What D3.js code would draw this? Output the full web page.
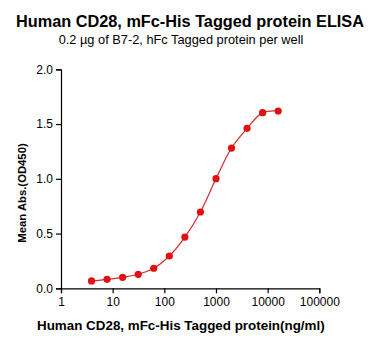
<!DOCTYPE html>
<html><head><meta charset="utf-8">
<script src="https://cdn.jsdelivr.net/npm/d3@7"></script>
<style>body{margin:0;background:#fff}svg{display:block}</style>
</head><body>
<script>
const concentrations = [3.9, 7.8, 15.6, 31.25, 62.5, 125, 250, 500, 1000, 2000, 4000, 8000, 16000];
const absorbance = [0.067, 0.082, 0.10, 0.128, 0.183, 0.295, 0.468, 0.697, 1.001, 1.281, 1.461, 1.604, 1.619];
const xTicks = [1, 10, 100, 1000, 10000, 100000];
const yTicks = [0, 0.5, 1.0, 1.5, 2.0];
const title = "Human CD28, mFc-His Tagged protein ELISA";
const subtitle = "0.2 \u00b5g of B7-2, hFc Tagged protein per well";
const xLabel = "Human CD28, mFc-His Tagged protein(ng/ml)";
const yLabel = "Mean Abs.(OD450)";

const W = 379, H = 345;
const svg = d3.select("body").append("svg").attr("width", W).attr("height", H)
  .style("font-family", "Arial, 'Liberation Sans', sans-serif");

const x = d3.scaleLog().domain([1, 100000]).range([61, 319.3]);
const y = d3.scaleLinear().domain([0, 2]).range([288.3, 69.3]);

const xAxis = svg.append("g").attr("transform", "translate(0,288.3)")
  .call(d3.axisBottom(x).tickValues(xTicks).tickFormat(d3.format("d")).tickSizeOuter(0).tickSize(5).tickPadding(4));
const yAxis = svg.append("g").attr("transform", "translate(61,0)")
  .call(d3.axisLeft(y).tickValues(yTicks).tickFormat(d3.format(".1f")).tickSizeOuter(0).tickSize(5).tickPadding(3));
[xAxis, yAxis].forEach(a => {
  a.selectAll("path,line").attr("stroke", "#000").attr("stroke-width", 1.2);
  a.selectAll("text").attr("font-size", 12).attr("fill", "#000").style("font-family", "Arial, 'Liberation Sans', sans-serif");
});

const pts = concentrations.map((c, i) => [c, absorbance[i]]);
svg.append("path").datum(pts)
  .attr("fill", "none").attr("stroke", "#d42a2a").attr("stroke-width", 1.2)
  .attr("d", d3.line().x(d => x(d[0])).y(d => y(d[1])).curve(d3.curveCatmullRom.alpha(0.5)));
svg.selectAll("circle.pt").data(pts).enter().append("circle")
  .attr("cx", d => x(d[0])).attr("cy", d => y(d[1])).attr("r", 3.6)
  .attr("fill", "#e01010");

svg.append("text").attr("x", 190).attr("y", 27).attr("text-anchor", "middle")
  .attr("font-size", 16.3).attr("font-weight", "bold").text(title);
svg.append("text").attr("x", 181).attr("y", 44).attr("text-anchor", "middle")
  .attr("font-size", 12.8).text(subtitle);
svg.append("text").attr("transform", "translate(26,193) rotate(-90)").attr("text-anchor", "middle")
  .attr("font-size", 11.3).attr("font-weight", "bold").text(yLabel);
svg.append("text").attr("x", 37).attr("y", 330).attr("text-anchor", "start")
  .attr("font-size", 13.4).attr("font-weight", "bold").text(xLabel);
</script>
</body></html>
